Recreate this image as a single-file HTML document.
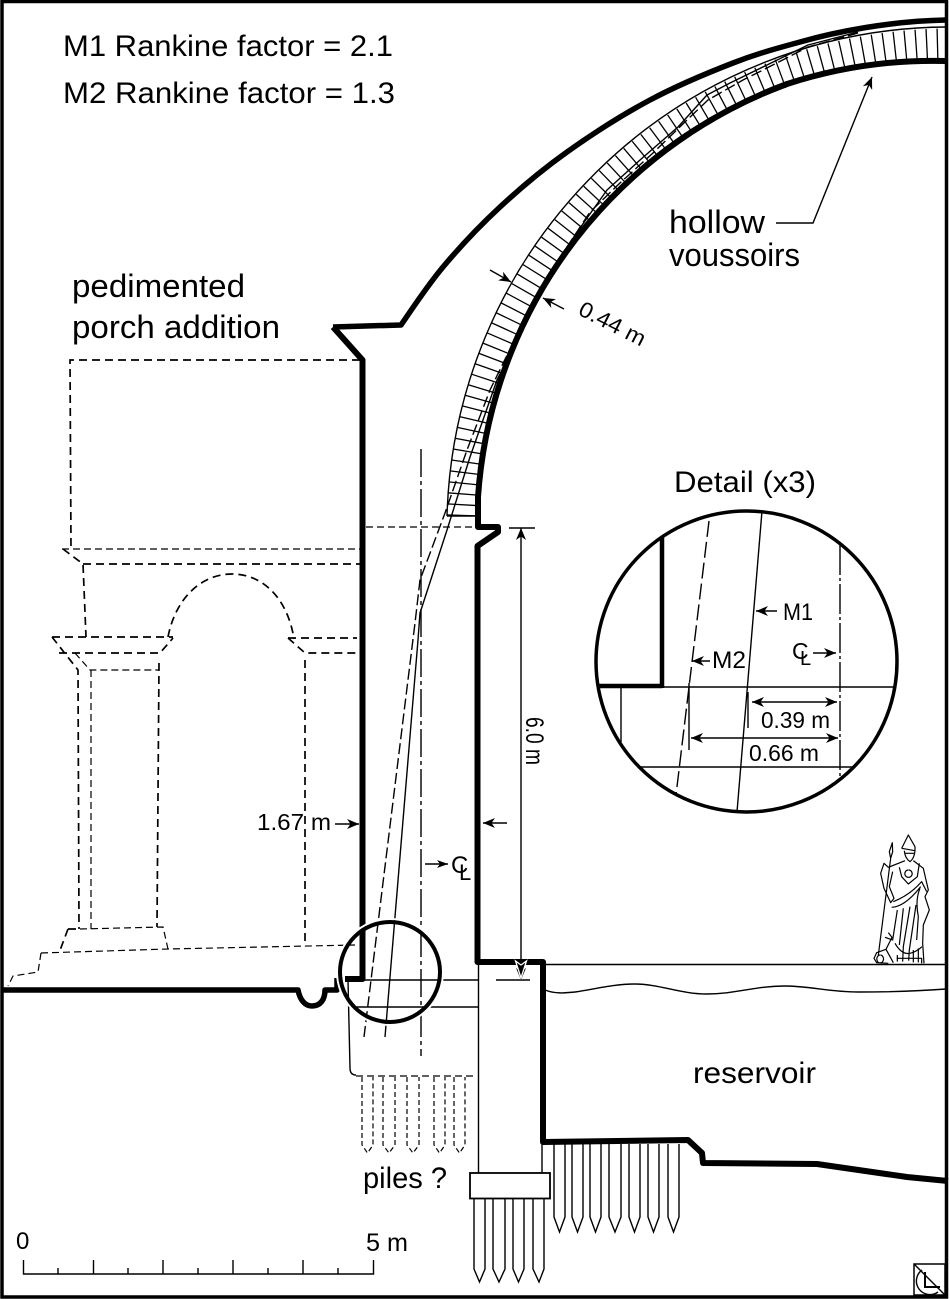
<!DOCTYPE html>
<html><head><meta charset="utf-8"><style>
html,body{margin:0;padding:0;background:#fff}
svg{display:block}
text{font-family:"Liberation Sans",sans-serif;fill:#000}
.th{fill:none;stroke:#000;stroke-width:5.500;stroke-linejoin:round}
.t{fill:none;stroke:#000;stroke-width:1.400}
.d{fill:none;stroke:#000;stroke-width:1.700;stroke-dasharray:8 5}
.d2{fill:none;stroke:#000;stroke-width:1.200;stroke-dasharray:7 4}
.a{fill:none;stroke:#000;stroke-width:1.400;marker-end:url(#ar)}
.aa{fill:none;stroke:#000;stroke-width:1.400;marker-end:url(#ar);marker-start:url(#ars)}
</style></head><body>
<svg width="950" height="1299" viewBox="0 0 950 1299" xmlns="http://www.w3.org/2000/svg">
<defs>
<marker id="ar" markerUnits="userSpaceOnUse" markerWidth="16" markerHeight="12" refX="13" refY="6" orient="auto"><path d="M13 6L1 1L4.500 6L1 11z" fill="#000"/></marker>
<marker id="ars" markerUnits="userSpaceOnUse" markerWidth="16" markerHeight="12" refX="13" refY="6" orient="auto-start-reverse"><path d="M13 6L1 1L4.500 6L1 11z" fill="#000"/></marker>
<clipPath id="det"><circle cx="746.500" cy="661.500" r="150"/></clipPath>
</defs>
<rect width="950" height="1299" fill="#fff"/>

<!-- voussoirs -->
<path d="M461.500 516A488.500 488.500 0 0 1 946 43.500" fill="none" stroke="#000" stroke-width="30" stroke-dasharray="1.300 9.400"/>
<path d="M447 516A503 503 0 0 1 946 27" class="t"/>
<path d="M447 516H481" class="t"/>

<!-- dome and walls -->
<path d="M333 327L401 325C408 315 426.500 286.700 443 267C459.500 247.300 479.300 226.200 500 207C520.700 187.800 542 169.800 567 152C592 134.200 622.300 114.800 650 100C677.700 85.200 708 72.700 733 63C758 53.300 778 48 800 42C835 32 890 21 946 20" class="th"/>
<path d="M333 327L362.500 360V979H345" class="th" style="stroke-width:6"/>
<path d="M946 61A474 474 0 0 0 787 84A474 474 0 0 0 587 225A476 476 0 0 0 478 497V527H498V532L477.500 546V962H543V1142L688 1140L702 1153L703 1163L817 1164L907 1177L948 1181" class="th" style="stroke-width:6"/>
<path d="M2 990H298C300 1000 305 1006 312 1006C320 1006 325 1000 325 990H337V978" class="th"/>

<!-- foundation -->
<path d="M362 980H478M348 1007H478M348 980L350 1068Q350 1075 356 1075" class="t"/>
<path d="M356 1076H475" class="d2"/>
<path d="M478.500 962V1173M542 1142V1173" class="t"/>
<rect x="470" y="1173" width="80" height="25.500" fill="#fff" stroke="#000" stroke-width="1.800"/>
<path class="t" d="M474 1199V1269L479.500 1282L485 1269V1199M493 1199V1269L499 1282L505 1269V1199M513 1199V1269L518.500 1282L524 1269V1199M533 1199V1269L539 1282L544 1269V1199"/>
<path class="t" d="M554 1144V1217L559.500 1232L565 1217V1144M572 1144V1217L577.500 1232L583 1217V1144M590 1144V1217L595.500 1232L601 1217V1144M609 1144V1217L615 1232L621 1217V1144M629 1144V1217L634.500 1232L640 1217V1144M648 1144V1217L653.500 1232L659 1217V1144M668 1144V1217L673.500 1232L679 1217V1144"/>
<path class="d2" style="stroke-dasharray:5 3" d="M362 1077V1145L367.500 1153L373 1145V1077M383 1077V1145L389 1153L395 1145V1077M407 1077V1145L413 1153L419 1145V1077M434 1077V1145L439.500 1153L445 1145V1077M454 1077V1145L459.500 1153L465 1145V1077"/>

<!-- reservoir -->
<path d="M543 964.500H946" class="t"/>
<path d="M545 990C555 994 565 993 575 992C595 989 615 984 634 984C660 984 680 994 707 994C735 994 755 986 784 986C810 986 830 992 858 992C890 992 920 991 946 989" class="t"/>

<!-- porch -->
<g>
<path class="d" d="M360 360H70L71 549M83 564H360M63 549L83 564L86 637M52 637H173M52 637L78 670L79 929M59 653H160L173 638M159 663L157 927M288 638H357M288 638L305 653H357M305 660V946M68 929L59 953M68 929H80"/>
<path class="d2" d="M62 549H360M75 653L90 670H159M91 670V929M80 929L163 927L168 949M41 953L168 949L355 945M41 953L38 972L13 976L8 986"/>
<path class="d" d="M168 637C175 600 200 574 232 574C264 574 288 600 294 639"/>
<path class="d2" d="M366 527H480"/>
</g>

<!-- thrust lines and centreline -->
<path d="M385 1037L418 640L420 613L447 530L470 457L497 380L540 295L575 235L607 190L640 160L678 127L707 95L730 83L767 65L808 45L858 32" class="t" stroke-linejoin="round"/>
<path d="M364 1037L415 623L420 580L445 513L467 450L490 390L540 288L590 212L620 183L653 153L687 120L708 100L743 80L763 70L808 47L858 33" class="t" style="stroke-dasharray:11 4" stroke-linejoin="round"/>
<path d="M421 449V1056" class="t" style="stroke-dasharray:28 4 4 4"/>

<!-- small detail circle -->
<circle cx="390" cy="972" r="53" fill="none" stroke="#fff" stroke-width="2"/>
<circle cx="390" cy="972" r="50" fill="none" stroke="#000" stroke-width="4"/>

<!-- dimensions -->
<path d="M509 528H535M496 980H530" class="t"/>
<path d="M521 528V980" class="aa"/>
<path d="M521 978L515.500 961L521 965L526.500 961z" fill="#000" stroke="#fff" stroke-width="1.300"/>
<path d="M335 824H359" class="a"/>
<path d="M507 823H483" class="a"/>
<path d="M490 270L511 282" class="a"/>
<path d="M564 309L543 298" class="a"/>
<path d="M776 223H813L872 77" class="a"/>
<path d="M425 864H448" class="t"/>
<path d="M448 864L437 860L440 864L437 868z" fill="#000"/>

<!-- detail circle -->
<g clip-path="url(#det)">
<path d="M662 535V688M595 686H662" class="th" style="stroke-width:4.500;stroke-linejoin:miter"/>
<path d="M595 687H900M621 688V742M640 767H852M762 511L737 812M689 683V750M748 692V728" class="t"/>
<path d="M709 521L676 795" class="t" style="stroke-dasharray:16 5"/>
<path d="M840 545V777" class="t" style="stroke-dasharray:30 3 3 3"/>
<path d="M752 702H837" class="aa"/>
<path d="M691 738H838" class="aa"/>
<path d="M777 611H756" class="a"/>
<path d="M710 661H692" class="a"/>
<path d="M813 653H836" class="a"/>
</g>
<circle cx="746.500" cy="661.500" r="150.500" fill="none" stroke="#000" stroke-width="3.500"/>

<!-- statue -->
<g transform="translate(860 830) scale(.3333)" fill="none" stroke="#000" stroke-width="3.600" stroke-linejoin="round">
<path d="M97 38L88 65L92 85L98 65zM92 85L55 375"/>
<path d="M125 55L145 15L165 50L165 62L125 55M133 62Q135 85 150 95Q163 85 165 62M135 70H162"/>
<path d="M135 92L85 112L72 100L62 130L72 175L92 218L102 205L88 170L98 125"/>
<path d="M160 92L190 115L205 180L195 200L208 240L190 285L188 340L192 400"/>
<path d="M118 112L125 140L145 162L172 140L178 100M145 120A11 11 0 1 0 146 120"/>
<path d="M100 215Q150 195 185 155L200 185M95 232Q135 230 182 170M180 175Q165 210 175 260L170 330"/>
<path d="M112 240L98 330L75 322M130 235L118 345M150 230L130 350L128 395M168 225L148 360L146 392M105 340Q125 375 150 370Q170 365 186 350"/>
<path d="M112 395V375M160 397V360M175 397V355"/>
<path d="M85 308L96 322L78 358L50 368L42 385L50 398L85 400M60 375A10 12 0 1 0 61 375M78 358L100 398"/>
<path d="M110 385H185V400"/>
</g>

<!-- labels -->
<text x="63" y="56" font-size="30" textLength="330" lengthAdjust="spacingAndGlyphs">M1 Rankine factor = 2.1</text>
<text x="63" y="103" font-size="30" textLength="332" lengthAdjust="spacingAndGlyphs">M2 Rankine factor = 1.3</text>
<text x="72" y="297" font-size="32" textLength="173" lengthAdjust="spacingAndGlyphs">pedimented</text>
<text x="72" y="338" font-size="32" textLength="208" lengthAdjust="spacingAndGlyphs">porch addition</text>
<text x="669" y="233" font-size="32" textLength="96" lengthAdjust="spacingAndGlyphs">hollow</text>
<text x="669" y="266" font-size="32" textLength="131" lengthAdjust="spacingAndGlyphs">voussoirs</text>
<text x="674" y="492" font-size="30" textLength="142" lengthAdjust="spacingAndGlyphs">Detail (x3)</text>
<text x="693" y="1083" font-size="30" textLength="123" lengthAdjust="spacingAndGlyphs">reservoir</text>
<text x="363" y="1188" font-size="30" textLength="84" lengthAdjust="spacingAndGlyphs">piles ?</text>
<text x="16" y="1249" font-size="24">0</text>
<text x="366" y="1251" font-size="25" textLength="42" lengthAdjust="spacingAndGlyphs">5 m</text>
<text x="257" y="830" font-size="23" textLength="74" lengthAdjust="spacingAndGlyphs">1.67 m</text>
<text transform="translate(577 314) rotate(27)" font-size="22" textLength="72" lengthAdjust="spacingAndGlyphs">0.44 m</text>
<text transform="translate(526 717) rotate(90)" font-size="25" textLength="48" lengthAdjust="spacingAndGlyphs">6.0 m</text>
<text x="783" y="620" font-size="24" textLength="30" lengthAdjust="spacingAndGlyphs">M1</text>
<text x="712" y="668" font-size="24" textLength="34" lengthAdjust="spacingAndGlyphs">M2</text>
<text x="761" y="728" font-size="23" textLength="69" lengthAdjust="spacingAndGlyphs">0.39 m</text>
<text x="749" y="761" font-size="23" textLength="70" lengthAdjust="spacingAndGlyphs">0.66 m</text>
<text x="792" y="659" font-size="23">C</text>
<text x="800" y="665" font-size="20">L</text>
<text x="451" y="873" font-size="24">C</text>
<text x="459" y="880" font-size="22">L</text>

<!-- scale bar -->
<path d="M23.500 1260V1274H373.500V1260M93.500 1260V1274M163 1260V1274M233 1260V1274M303 1260V1274M58 1268V1274M128 1268V1274M198 1268V1274M268 1268V1274M338 1268V1274" class="t"/>

<!-- logo -->
<rect x="914" y="1264" width="31" height="31" fill="none" stroke="#000" stroke-width="1.500"/>
<path d="M914 1264L945 1295" class="t"/>
<path d="M922 1270A13 13 0 0 0 938 1292" class="t"/>
<path d="M925 1272V1287H940" fill="none" stroke="#000" stroke-width="2"/>

<!-- frame -->
<rect x="2" y="1.500" width="944.500" height="1295.500" fill="none" stroke="#000" stroke-width="3.500"/>
</svg>
</body></html>
